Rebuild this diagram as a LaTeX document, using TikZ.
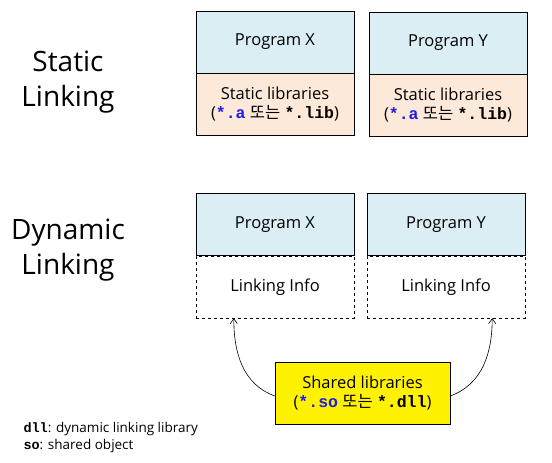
\documentclass[tikz,border=0pt]{standalone}
\usepackage{fontspec}
\setmainfont{Open Sans}
\setmonofont{Liberation Mono}
\newfontfamily\krfont{Noto Sans CJK KR}
\usepackage{tikz}
\usetikzlibrary{arrows.meta, positioning}

\definecolor{progblue}{RGB}{218,238,243}
\definecolor{libpeach}{RGB}{253,233,217}
\definecolor{extblue}{RGB}{30,30,230}

\newcommand{\extname}[1]{\textcolor{extblue}{\texttt{\textbf{#1}}}}
\newcommand{\monob}[1]{\texttt{\textbf{#1}}}
\newcommand{\orko}{{\krfont 또는}}

\tikzset{
  prog/.style={draw, fill=progblue, minimum width=158pt, minimum height=62pt,
    inner sep=0pt, align=center, font=\fontsize{16.5}{19}\selectfont},
  staticlib/.style={prog, fill=libpeach},
  linkinfo/.style={prog, fill=none, dashed},
  shared/.style={draw, fill=yellow, minimum width=175pt, minimum height=62pt,
    inner sep=0pt, align=center, font=\fontsize{16.5}{19}\selectfont},
  title/.style={align=center, font=\fontsize{28}{35}\selectfont},
  note/.style={align=left, anchor=west, font=\fontsize{13.5}{17}\selectfont},
  link/.style={-{Straight Barb[length=5pt, width=7pt]}, semithick}
}

\begin{document}
\begin{tikzpicture}[x=1pt, y=-1pt]
\useasboundingbox (0,0) rectangle (552,463);

% Static linking
\node[title] (statictitle) at (68,82) {Static\\Linking};
\node[prog] (sprogX) at (275,42) {Program X};
\node[staticlib, below=0pt of sprogX] (slibX) {Static libraries\\(\extname{*.a} \orko{} \monob{*.lib})};
\node[prog] (sprogY) at (448,43) {Program Y};
\node[staticlib, below=0pt of sprogY] (slibY) {Static libraries\\(\extname{*.a} \orko{} \monob{*.lib})};

% Dynamic linking
\node[title] (dynamictitle) at (68,250) {Dynamic\\Linking};
\node[prog] (dprogX) at (275,224.5) {Program X};
\node[linkinfo, below=0pt of dprogX] (infoX) {Linking Info};
\node[prog] (dprogY) at (446,224.5) {Program Y};
\node[linkinfo, below=0pt of dprogY] (infoY) {Linking Info};

% Shared libraries
\node[shared] (shared) at (362.5,393) {Shared libraries\\(\extname{*.so} \orko{} \monob{*.dll})};

\coordinate (tipX) at ([xshift=38pt]infoX.south west);
\coordinate (tipY) at ([xshift=-33pt]infoY.south east);
\draw[link] ([yshift=-3pt]shared.west) to[out=160, in=-90] (tipX);
\draw[link] ([yshift=-3pt]shared.east) to[out=20, in=-90] (tipY);

% Notes
\node[note] (notes) at (20,437) {\monob{dll}: dynamic linking library\\\monob{so}: shared object};

\end{tikzpicture}
\end{document}
